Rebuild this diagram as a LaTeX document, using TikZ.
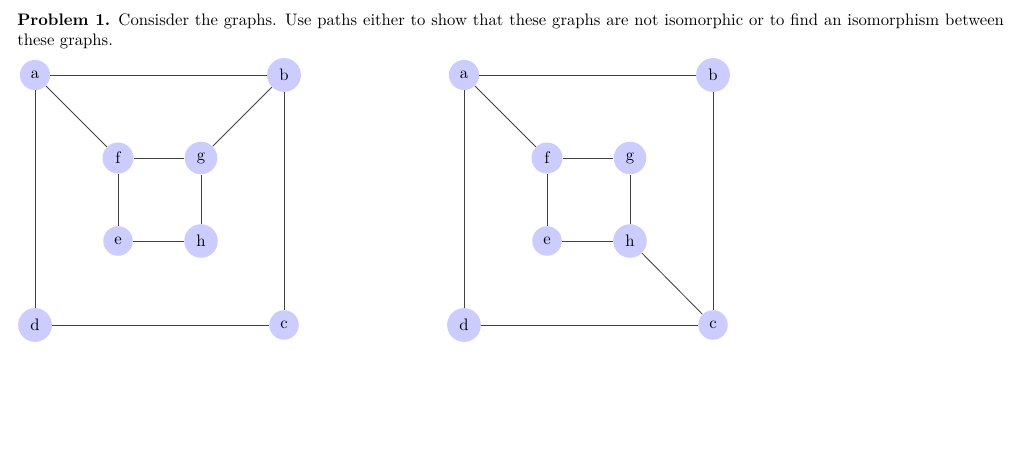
\documentclass[tikz,border=0pt]{standalone}
\begin{document}
\begin{tikzpicture}[x=0.6pt,y=-0.6pt,
  vtx/.style={circle,fill=blue!20,inner sep=4pt},
  edge/.style={draw=black!75,line width=0.5pt}]
\useasboundingbox (0,0) rectangle (1024,472);
\node[anchor=north west,text width=592pt,align=justify,inner sep=0pt] (t) at (17,13)
 {\textbf{Problem 1.} Consisder the graphs. Use paths either to show that these graphs are not isomorphic or to find an isomorphism between these graphs.};
\foreach \p/\dx in {L/0,R/429}{
  \node[vtx] (\p a) at (35+\dx,75) {a};
  \node[vtx] (\p b) at (284+\dx,75) {b};
  \node[vtx] (\p f) at (118+\dx,158) {f};
  \node[vtx] (\p g) at (201+\dx,158) {g};
  \node[vtx] (\p e) at (118+\dx,241) {e};
  \node[vtx] (\p h) at (201+\dx,241) {h};
  \node[vtx] (\p d) at (35+\dx,325) {d};
  \node[vtx] (\p c) at (284+\dx,325) {c};
}
\foreach \u/\v in {a/b,a/f,b/g,a/d,b/c,d/c,f/g,f/e,g/h,e/h}
  \draw[edge] (L\u) -- (L\v);
\foreach \u/\v in {a/b,a/f,a/d,b/c,d/c,f/g,f/e,g/h,e/h,h/c}
  \draw[edge] (R\u) -- (R\v);
\end{tikzpicture}
\end{document}
